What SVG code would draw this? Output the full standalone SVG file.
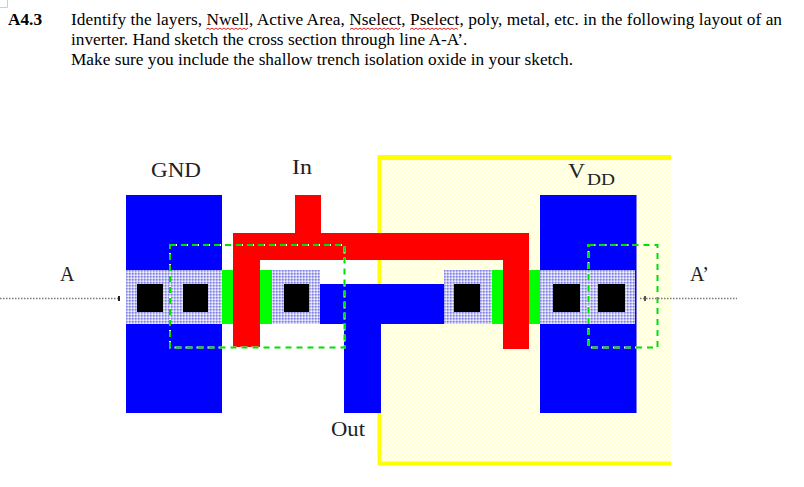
<svg xmlns="http://www.w3.org/2000/svg" width="804" height="487" viewBox="0 0 804 487">
<style>
text{font-family:"Liberation Serif","Times New Roman",serif;fill:#000}
.q{font-size:17.3px}
.l{font-size:20px;fill:#222}
.blue{fill:#0000ff}
.red{fill:#ff0000}
.green{fill:#00ff00}
.cut{fill:#000}
.yl{fill:#ffff00}
.sq{fill:none;stroke:#e02020;stroke-width:1}
.bw{fill:none;stroke:#fff;stroke-width:2}
.bg{fill:none;stroke:#00e000;stroke-width:2;stroke-dasharray:6 5}
.dot{fill:none;stroke:#777;stroke-width:1.500;stroke-dasharray:1.500 1.500}
</style>
<defs>
<pattern id="act" width="3" height="3" patternUnits="userSpaceOnUse">
<rect width="3" height="3" fill="#c4c4f4"/>
<rect x="0" y="0" width="1.500" height="1.500" fill="#8080e4"/>
<rect x="1.500" y="1.500" width="1.500" height="1.500" fill="#f0f0ff"/>
</pattern>
<pattern id="nw" width="4" height="4" patternUnits="userSpaceOnUse">
<rect width="4" height="4" fill="#fffff6"/>
<rect x="0" y="0" width="1.500" height="1.500" fill="#ffffcc"/>
<rect x="2" y="2" width="1.500" height="1.500" fill="#ffffcc"/>
</pattern>
</defs>
<path d="M0 7.500H7.500V0" fill="none" stroke="#ccc"/>
<g id="question">
<text x="8" y="25" class="q" font-weight="bold">A4.3</text>
<text x="71" y="25" class="q" textLength="711" lengthAdjust="spacing">Identify the layers, Nwell, Active Area, Nselect, Pselect, poly, metal, etc. in the following layout of an</text>
<text x="71" y="45" class="q">inverter. Hand sketch the cross section through line A-A’.</text>
<text x="71" y="65" class="q">Make sure you include the shallow trench isolation oxide in your sketch.</text>
<path class="sq" d="M206 29.500l2-1.500 2 1.500 2-1.500 2 1.500 2-1.500 2 1.500 2-1.500 2 1.500 2-1.500 2 1.500 2-1.500 2 1.500 2-1.500 2 1.500 2-1.500 2 1.500 2-1.500 2 1.500 2-1.500 2 1.500 2-1.500"/>
<path class="sq" d="M350 29.500l2-1.500 2 1.500 2-1.500 2 1.500 2-1.500 2 1.500 2-1.500 2 1.500 2-1.500 2 1.500 2-1.500 2 1.500 2-1.500 2 1.500 2-1.500 2 1.500 2-1.500 2 1.500 2-1.500 2 1.500 2-1.500 2 1.500 2-1.500 2 1.500 2-1.500"/>
<path class="sq" d="M410 29.500l2-1.500 2 1.500 2-1.500 2 1.500 2-1.500 2 1.500 2-1.500 2 1.500 2-1.500 2 1.500 2-1.500 2 1.500 2-1.500 2 1.500 2-1.500 2 1.500 2-1.500 2 1.500 2-1.500 2 1.500 2-1.500 2 1.500 2-1.500 2 1.500"/>
</g>
<g id="nwell">
<rect x="380" y="158" width="291" height="305" fill="url(#nw)"/>
<path class="yl" d="M377.500 155H671V160H381V461.500H671V465.500H377.500Z"/>
</g>
<g id="metal-gnd"><rect class="blue" x="126" y="195" width="96" height="218"/></g>
<g id="metal-vdd"><rect class="blue" x="540" y="195" width="96" height="218"/><rect x="636" y="195" width="1" height="218" fill="#7c7ce0"/></g>
<g id="metal-out"><path class="blue" d="M320 284H444V324H381V413H344V324H320Z"/></g>
<g id="active">
<rect x="126" y="270" width="96" height="54" fill="url(#act)"/>
<rect x="272" y="270" width="48" height="54" fill="url(#act)"/>
<rect x="444" y="270" width="48" height="54" fill="url(#act)"/>
<rect x="540" y="270" width="95" height="54" fill="url(#act)"/>
<rect class="green" x="222" y="270" width="50" height="54"/>
<rect class="green" x="492" y="270" width="48" height="54"/>
</g>
<g id="poly"><path class="red" d="M295 195H321V233H529V349H503V260H260V347H233V233H295Z"/></g>
<g id="contacts">
<rect class="cut" x="137" y="284" width="26" height="28"/>
<rect class="cut" x="183" y="284" width="25" height="28"/>
<rect class="cut" x="284" y="284" width="25" height="28"/>
<rect class="cut" x="454" y="284" width="26" height="28"/>
<rect class="cut" x="553" y="284" width="27" height="28"/>
<rect class="cut" x="598" y="284" width="27" height="28"/>
</g>
<g id="select">
<rect class="bw" x="170" y="245" width="174.500" height="102.500" stroke-dasharray="7 4"/>
<rect class="bg" x="170" y="245" width="174.500" height="102.500"/>
<rect class="bw" x="588.500" y="245" width="69" height="102.500" stroke-dasharray="7 4"/>
<rect class="bg" x="588.500" y="245" width="69" height="102.500"/>
</g>
<g id="connectors">
<path class="dot" d="M0 298.500H118"/>
<path d="M119 296V301" stroke="#222" stroke-width="2" fill="none"/>
<path class="dot" d="M640 298.500H737"/>
<path d="M645 296V301" stroke="#222" stroke-width="1.500" fill="none"/>
</g>
<g id="labels">
<text x="151" y="177" class="l" textLength="50" lengthAdjust="spacingAndGlyphs">GND</text>
<text x="292" y="174" class="l" textLength="20" lengthAdjust="spacingAndGlyphs">In</text>
<text x="568" y="178" class="l" textLength="17" lengthAdjust="spacingAndGlyphs">V</text>
<text x="587" y="185" class="l" font-size="17" style="font-size:17px" textLength="28" lengthAdjust="spacingAndGlyphs">DD</text>
<text x="331" y="436" class="l" textLength="34" lengthAdjust="spacingAndGlyphs">Out</text>
<text x="60" y="281" class="l">A</text>
<text x="690" y="281" class="l">A’</text>
</g>
</svg>
